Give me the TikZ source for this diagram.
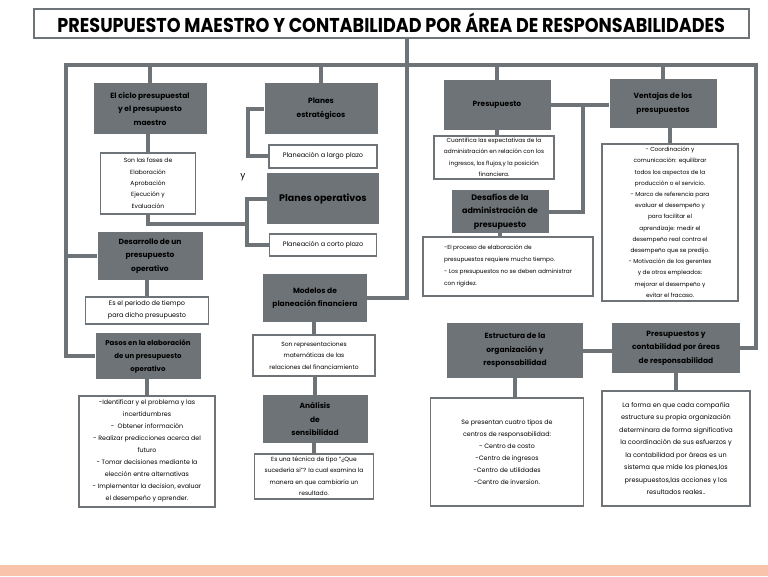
\documentclass[tikz,border=0pt]{standalone}
\usepackage{fontspec}
\setmainfont{Poppins}
\usepackage{graphicx}
\definecolor{bgray}{HTML}{6D7377}
\definecolor{salmon}{HTML}{F9C3AB}
\begin{document}
\begin{tikzpicture}[x=1pt,y=-1pt,
  conn/.style={draw=bgray, line width=4pt, line join=miter},
  dark/.style={fill=bgray, anchor=north, inner sep=1pt, align=center, font=\fontsize{7.5}{13.5}\selectfont\bfseries, text=black},
  wbox/.style={draw=bgray, line width=1.6pt, fill=white, anchor=north, inner sep=1pt, align=center, font=\fontsize{6}{11.3}\selectfont},
]
\useasboundingbox (0,0) rectangle (768,576);
\fill[salmon] (0,565) rectangle (768,576);

% title
\node[draw=bgray, line width=1.5pt, minimum width=715pt, minimum height=29pt, anchor=north west, inner sep=0] (title) at (33,8)
  {\scalebox{0.88}[1]{\fontsize{20}{20}\selectfont\bfseries PRESUPUESTO MAESTRO Y CONTABILIDAD POR ÁREA DE RESPONSABILIDADES}};

\coordinate (cL) at (66,65);
\coordinate (cM) at (407,65);
\coordinate (cR) at (756,65);

% left column
\node[dark, minimum width=113pt, minimum height=51pt] (ciclo) at (150,83) {El ciclo presupuestal\\y el presupuesto\\maestro};
\node[wbox, minimum width=95pt, minimum height=61pt] (fases) at (148,152) {Son las fases de\\Elaboración\\Aprobación\\Ejecución y\\Evaluación};
\node[dark, minimum width=105pt, minimum height=48pt] (desa) at (150,232) {Desarrollo de un\\presupuesto\\operativo};
\node[wbox, minimum width=123pt, minimum height=27pt, font=\fontsize{6.5}{12}\selectfont] (periodo) at (147,296) {Es el periodo de tiempo\\para dicho presupuesto};
\node[dark, minimum width=105pt, minimum height=46pt, font=\fontsize{7}{13}\selectfont\bfseries] (pasos) at (148,333) {Pasos en la elaboración\\de un presupuesto\\operativo};
\node[wbox, minimum width=136pt, minimum height=111pt, font=\fontsize{6.3}{12}\selectfont] (ident) at (147,395) {-Identificar y el problema y las\\incertidumbres\\-\ \ Obtener información\\- Realizar predicciones acerca del\\futuro\\- Tomar decisiones mediante la\\elección entre alternativas\\- Implementar la decision, evaluar\\el desempeño y aprender.};

% planes
\node[dark, minimum width=113pt, minimum height=51pt] (pe) at (321,83) {Planes\\estratégicos};
\node[wbox, minimum width=108pt, minimum height=23pt, font=\fontsize{6.5}{12}\selectfont] (largo) at (323,144) {Planeación a largo plazo};
\node[dark, minimum width=112pt, minimum height=51pt, font=\fontsize{9.5}{13}\selectfont\bfseries] (po) at (323,173) {Planes operativos};
\node[wbox, minimum width=107pt, minimum height=22pt, font=\fontsize{6.5}{12}\selectfont] (corto) at (323,233) {Planeación a corto plazo};
\node[font=\fontsize{9}{9}\selectfont] (ylab) at (243,177) {y};

% middle column
\node[dark, minimum width=104pt, minimum height=48pt] (mod) at (315,274) {Modelos de\\planeación financiera};
\node[wbox, minimum width=122pt, minimum height=41pt, font=\fontsize{6}{11.5}\selectfont] (rep) at (314,334) {Son representaciones\\matemáticas de las\\relaciones del financiamiento};
\node[dark, minimum width=105pt, minimum height=48pt] (anal) at (315,395) {Análisis\\de\\sensibilidad};
\node[wbox, minimum width=119pt, minimum height=45pt, font=\fontsize{6}{11.5}\selectfont] (tec) at (314,453) {Es una técnica de tipo "¿Que\\sucedería si"? la cual examina la\\manera en que cambiaría un\\resultado.};

% right part
\node[dark, minimum width=107pt, minimum height=50pt] (pres) at (497,80) {Presupuesto};
\node[wbox, minimum width=120pt, minimum height=43pt, font=\fontsize{5.8}{11.5}\selectfont] (cuant) at (494,135) {Cuantifica las expectativas de la\\administración en relación con los\\ingresos, los flujos,y la posición\\financiera.};
\node[dark, minimum width=97pt, minimum height=43pt, font=\fontsize{8}{13.5}\selectfont\bfseries] (desaf) at (500,190) {Desafíos de la\\administración de\\presupuesto};
\node[wbox, minimum width=170pt, minimum height=59pt, align=left, font=\fontsize{5.8}{12}\selectfont] (proc) at (508,236) {-El proceso de elaboración de\\presupuestos requiere mucho tiempo.\\- Los presupuestos no se deben administrar\\con rigidez.};
\node[dark, minimum width=107pt, minimum height=49pt] (vent) at (663,79) {Ventajas de los\\presupuestos};
\node[wbox, minimum width=136pt, minimum height=157pt, font=\fontsize{5.8}{11.2}\selectfont] (vtext) at (670,143) {- Coordinación y\\comunicación: equilibrar\\todos los aspectos de la\\producción o el servicio.\\- Marco de referencia para\\evaluar el desempeño y\\para facilitar el\\aprendizaje: medir el\\desempeño real contra el\\desempeño que se predijo.\\- Motivación de los gerentes\\y de otros empleados:\\mejorar el desempeño y\\evitar el fracaso.};

\node[dark, minimum width=136pt, minimum height=55pt] (estr) at (515,323) {Estructura de la\\organización y\\responsabilidad};
\node[wbox, minimum width=153pt, minimum height=108pt, font=\fontsize{6.3}{12}\selectfont] (sep) at (507,397) {Se presentan cuatro tipos de\\centros de responsabilidad:\\- Centro de costo\\-Centro de ingresos\\-Centro de utilidades\\-Centro de inversion.};
\node[dark, minimum width=128pt, minimum height=50pt] (pyc) at (676,323) {Presupuestos y\\contabilidad por áreas\\de responsabilidad};
\node[wbox, minimum width=148pt, minimum height=115pt, font=\fontsize{6.5}{12.5}\selectfont] (forma) at (676,390) {La forma en que cada compañía\\estructure su propia organización\\determinara de forma significativa\\la coordinación de sus esfuerzos y\\la contabilidad por áreas es un\\sistema que mide los planes,los\\presupuestos,las acciones y los\\resultados reales..};

% connectors
\draw[conn] (pasos.west) -| (cL) -- (cR) |- (pyc.east);
\draw[conn] (title.south -| cM) -- (cM);
\draw[conn] (mod.east) -| (cM);
\draw[conn] (desa.west) -- (desa.west -| cL);
\draw[conn] (ciclo.north) -- (ciclo.north |- cL);
\draw[conn] (ciclo.south -| fases.north) -- (fases.north);
\draw[conn] (desa.south -| periodo.north) -- (periodo.north);
\draw[conn] (pasos.south -| ident.north) -- (ident.north);
\coordinate (bk1) at (248,130);
\draw[conn] (pe.west) -- (pe.west -| bk1) -- (largo.west -| bk1) -- (largo.west);
\coordinate (bk2) at (247,224);
\draw[conn] (po.west) -- (po.west -| bk2) -- (corto.west -| bk2) -- (corto.west);
\draw[conn] (fases.south) |- (bk2);
\draw[conn] (pe.north) -- (pe.north |- cL);
\draw[conn] (mod.south -| rep.north) -- (rep.north);
\draw[conn] (rep.south -| anal.north) -- (anal.north);
\draw[conn] (anal.south -| tec.north) -- (tec.north);
\draw[conn] (pres.north) -- (pres.north |- cL);
\draw[conn] (pres.south) -- (pres.south |- cuant.north);
\draw[conn] (pres.east) -- (pres.east -| vent.west);
\coordinate (bk3) at (583,150);
\draw[conn] (pres.east -| bk3) |- (desaf.east);
\draw[conn] (desaf.south) -- (desaf.south |- proc.north);
\draw[conn] (vent.north) -- (vent.north |- cL);
\draw[conn] (vent.south -| vtext.north) -- (vtext.north);
\draw[conn] (estr.east) -- (estr.east -| pyc.west);
\draw[conn] (estr.south) -- (estr.south |- sep.north);
\draw[conn] (pyc.south) -- (pyc.south |- forma.north);
\end{tikzpicture}
\end{document}
